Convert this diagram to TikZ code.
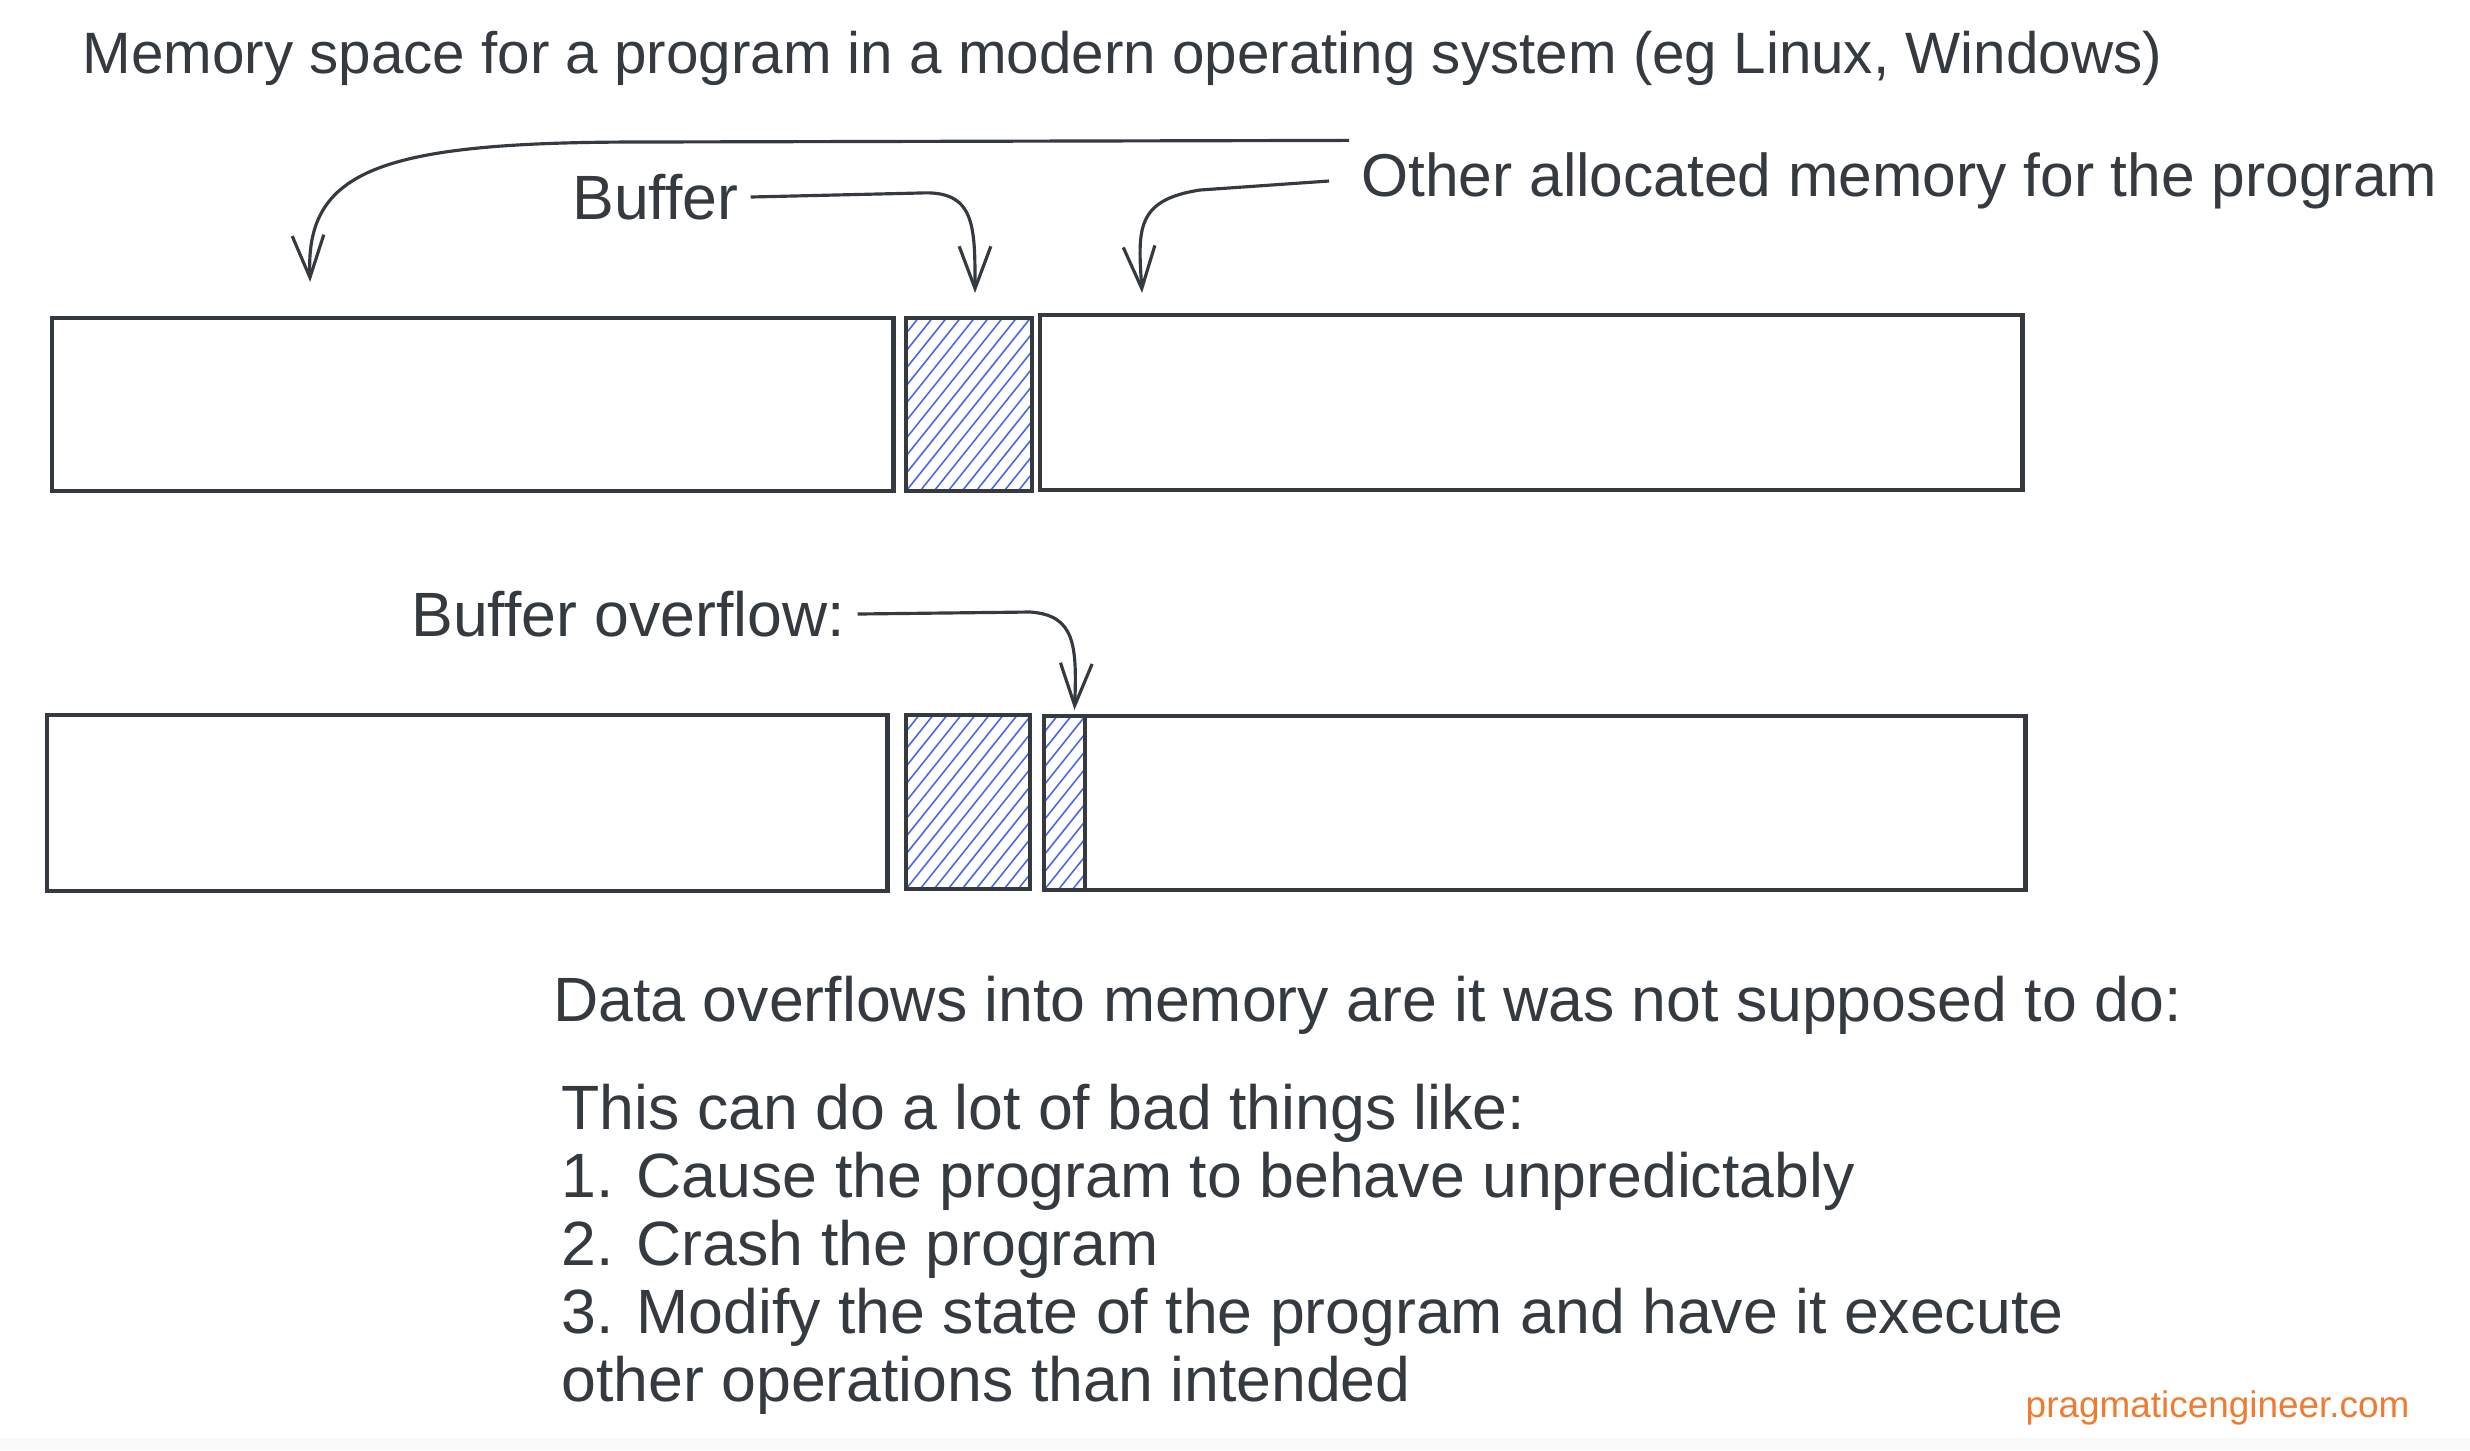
\documentclass[tikz,border=0pt]{standalone}
\usepackage{fontspec}
\setmainfont{Liberation Sans}
\usepackage{xcolor}
\usetikzlibrary{arrows.meta,positioning}
\definecolor{ink}{HTML}{343A40}
\definecolor{hatchblue}{HTML}{4A66E8}
\definecolor{brand}{HTML}{F07A30}
\tikzset{
	mem/.style = {draw=ink, line width=1.2pt, rectangle, inner sep=0pt, outer sep=0pt, anchor=north west},
	hatched/.style = {mem, path picture={
		\foreach \k in {0,...,22}
		\draw[hatchblue, line width=0.45pt] ([xshift=\k*0.14cm-1.4cm]path picture bounding box.south west) -- ++(1.4cm,1.75cm);}},
	txt/.style = {text=ink, font=\fontsize{17.8}{19.4}\selectfont, anchor=west},
	callout/.style = {draw=ink, line width=0.9pt, -{Straight Barb[length=12pt,width=9pt]}}
}
\begin{document}
\begin{tikzpicture}[x=0.01cm, y=-0.01cm]
	\useasboundingbox (0,0) rectangle (2470,1450);
	\fill[gray!4] (0,1438) rectangle (2470,1450);
	
	% labels
	\node[txt, font=\fontsize{16.6}{19.4}\selectfont] (title) at (70,58) {Memory space for a program in a modern operating system (eg Linux, Windows)};
	\node[txt] (buflbl) at (560,197) {Buffer};
	\node[txt, font=\fontsize{17.2}{19.4}\selectfont] (other) at (1349,181) {Other allocated memory for the program};
	\node[txt] (ovlbl) at (399,614) {Buffer overflow:};
	
	% first row: memory before the overflow
	\node[mem, minimum width=8.41cm, minimum height=1.73cm] (m1) at (52,318) {};
	\node[hatched, minimum width=1.26cm, minimum height=1.73cm] (b1) at (906,318) {};
	\node[mem, minimum width=9.82cm, minimum height=1.75cm] (r1) at (1040,315) {};
	
	% second row: the buffer has overflowed
	\node[mem, minimum width=8.40cm, minimum height=1.76cm] (m2) at (47,715) {};
	\node[hatched, minimum width=1.24cm, minimum height=1.74cm] (b2) at (906,715) {};
	\node[hatched, minimum width=0.41cm, minimum height=1.74cm] (ov) at (1044,716) {};
	\node[mem, minimum width=9.40cm, minimum height=1.74cm] (r2) at (1085,716) {};
	
	% arrow ends
	\coordinate (tL) at ([xshift=2.58cm,yshift=0.36cm]m1.north west);
	\coordinate (tB) at ([xshift=0.06cm,yshift=0.25cm]b1.north);
	\coordinate (tR) at ([xshift=1.02cm,yshift=0.22cm]r1.north west);
	\coordinate (tO) at ([xshift=0.1cm,yshift=0.06cm]ov.north);
	
	% callouts
	\draw[callout] (buflbl.east) -- (920,193) .. controls (975,190) and (975,225) .. (tB);
	\draw[callout] (other.north west) -- (640,142) .. controls (380,142) and (305,170) .. (tL);
	\draw[callout] ([xshift=-0.2cm]other.west) -- (1200,190) .. controls (1135,200) and (1138,230) .. (tR);
	\draw[callout] (ovlbl.east) -- (1030,612) .. controls (1075,615) and (1077,645) .. (tO);
	
	% notes below
	\node[txt] (data) at (541,1005) {Data overflows into memory are it was not supposed to do:};
	\begin{scope}[node distance=0.68cm]
		\node[txt] (n1) at (549,1113) {This can do a lot of bad things like:};
		\node[txt, below=of n1.base west, anchor=base west] (n2) {1. Cause the program to behave unpredictably};
		\node[txt, below=of n2.base west, anchor=base west] (n3) {2. Crash the program};
		\node[txt, below=of n3.base west, anchor=base west] (n4) {3. Modify the state of the program and have it execute};
		\node[txt, below=of n4.base west, anchor=base west] (n5) {other operations than intended};
	\end{scope}
	
	\node[text=brand, font=\fontsize{10.5}{12}\selectfont, inner sep=0pt, anchor=west] (site) at (2025,1408) {pragmaticengineer.com};
\end{tikzpicture}
\end{document}
